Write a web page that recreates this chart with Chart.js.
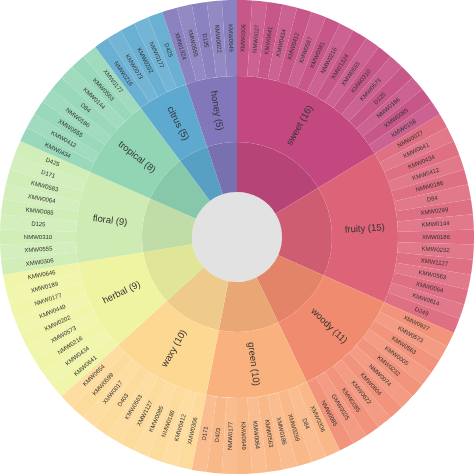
<!DOCTYPE html>
<html>
<head>
<meta charset="utf-8">
<script src="https://cdn.jsdelivr.net/npm/chart.js@4.4.1/dist/chart.umd.min.js"></script>
<style>
  html, body { margin: 0; padding: 0; background: #fff; }
  #wrap { width: 474px; height: 474px; }
</style>
</head>
<body>
<div id="wrap"><canvas id="sun"></canvas></div>
<script>
// categorias (anel interno)
const categories = ['sweet', 'fruity', 'woody', 'green', 'waxy', 'herbal', 'floral', 'tropical', 'citrus', 'honey'];
const counts = [16, 15, 11, 10, 10, 9, 9, 8, 5, 5];
const catColors = ['#c2487f', '#dc6378', '#f18b6f', '#f9b27d', '#fdd893', '#eff4a2', '#cdebb2', '#91d5b5', '#5da9cf', '#8177ba'];

// compostos (anel externo), na ordem horária
const sweetItems = ['XMW0306', 'NMW0027', 'KMW0641', 'KMW0434', 'KMW0412', 'XMW0567', 'KMW0081', 'NMW0216', 'XMW1324', 'XMW0555', 'KMW0310', 'KMW0573', 'D125', 'NMW0186', 'KMW0085', 'KMW0158'];
const fruityItems = ['NMW0027', 'KMW0641', 'KMW0434', 'KMW0412', 'NMW0186', 'D84', 'XMW0299', 'KMW0144', 'XMW0186', 'KMW0232', 'XMW1127', 'KMW0563', 'XMW0064', 'KMW0614', 'D249'];
const woodyItems = ['XMW0927', 'KMW0573', 'KMW0563', 'KMW0005', 'KMW0232', 'NMW0074', 'KMW0604', 'KMW0622', 'KMW0085', 'GMW0025', 'NMW0085'];
const greenItems = ['XMW0306', 'D84', 'XMW0299', 'XMW0186', 'KMW0563', 'KMW0064', 'KMW0649', 'NMW0177', 'D403', 'D171'];
const waxyItems = ['XMW0306', 'KMW0412', 'NMW0186', 'KMW0085', 'XMW1127', 'KMW0563', 'D403', 'XMW0017', 'KMW0599', 'KMW0654'];
const herbalItems = ['KMW0641', 'KMW0434', 'NMW0216', 'XMW0573', 'KMW0202', 'KMW0449', 'NMW0177', 'XMW0189', 'KMW0646'];
const floralItems = ['XMW0306', 'XMW0555', 'NMW0310', 'D125', 'KMW0085', 'XMW0064', 'KMW0583', 'D171', 'D425'];
const tropicalItems = ['KMW0434', 'KMW0412', 'XMW0555', 'NMW0186', 'D84', 'KMW0144', 'KMW0563', 'XMW0177'];
const citrusItems = ['NMW0216', 'KMW0073', 'KMW0202', 'NMW0177', 'D425'];
const honeyItems = ['XMW1324', 'XMW0555', 'D125', 'KMW0022', 'KMW0646'];

const itemGroups = [sweetItems, fruityItems, woodyItems, greenItems, waxyItems, herbalItems, floralItems, tropicalItems, citrusItems, honeyItems];

// helpers de cor
function shade(hex, f) {
    const n = parseInt(hex.slice(1), 16);
    let r = (n >> 16) & 255, g = (n >> 8) & 255, b = n & 255;
    if (f < 0) { r *= (1 + f); g *= (1 + f); b *= (1 + f); }
    else { r += (255 - r) * f; g += (255 - g) * f; b += (255 - b) * f; }
    return 'rgb(' + Math.round(r) + ',' + Math.round(g) + ',' + Math.round(b) + ')';
}

const outerLabels = [], outerData = [], outerColors = [];
itemGroups.forEach((grp, gi) => {
    grp.forEach((name, k) => {
        outerLabels.push(name);
        outerData.push(1);
        outerColors.push(shade(catColors[gi], k % 2 ? 0.14 : 0.08));
    });
});

const labelPlugin = {
    id: 'radialLabels',
    beforeDatasetsDraw(chart) {
        const meta = chart.getDatasetMeta(2);
        const a = meta.data[0];
        const ctx = chart.ctx;
        ctx.save();
        ctx.fillStyle = '#e2e2e2';
        ctx.beginPath();
        ctx.arc(a.x, a.y, a.innerRadius, 0, Math.PI * 2);
        ctx.fill();
        ctx.restore();
    },
    afterDatasetsDraw(chart) {
        const ctx = chart.ctx;
        const draw = (dsIndex, texts, size) => {
            const meta = chart.getDatasetMeta(dsIndex);
            meta.data.forEach((arc, i) => {
                const p = arc.getProps(['x', 'y', 'startAngle', 'endAngle', 'innerRadius', 'outerRadius']);
                const ang = (p.startAngle + p.endAngle) / 2;
                const r = (p.innerRadius + p.outerRadius) / 2;
                let rot = ang;
                if (Math.cos(ang) < -0.0001) rot += Math.PI;
                ctx.save();
                ctx.translate(p.x + Math.cos(ang) * r, p.y + Math.sin(ang) * r);
                ctx.rotate(rot);
                ctx.font = size + 'px "Liberation Sans", sans-serif';
                ctx.fillStyle = '#333';
                ctx.textAlign = 'center';
                ctx.textBaseline = 'middle';
                ctx.fillText(texts[i], 0, 0);
                ctx.restore();
            });
        };
        draw(1, categories.map((c, i) => c + ' (' + counts[i] + ')'), 9.5);
        draw(0, outerLabels, 6);
    }
};

new Chart(document.getElementById('sun'), {
    type: 'doughnut',
    data: {
        labels: outerLabels,
        datasets: [
            { data: outerData, backgroundColor: outerColors, borderWidth: 0, weight: 76 },
            { data: counts, backgroundColor: catColors, borderWidth: 0, weight: 66 },
            { data: counts, backgroundColor: catColors.map(c => shade(c, -0.06)), borderWidth: 0, weight: 50 }
        ]
    },
    options: {
        responsive: true,
        maintainAspectRatio: false,
        animation: false,
        cutout: '19%',
        layout: { padding: 0 },
        plugins: { legend: { display: false }, tooltip: { enabled: false } }
    },
    plugins: [labelPlugin]
});
</script>
</body>
</html>
